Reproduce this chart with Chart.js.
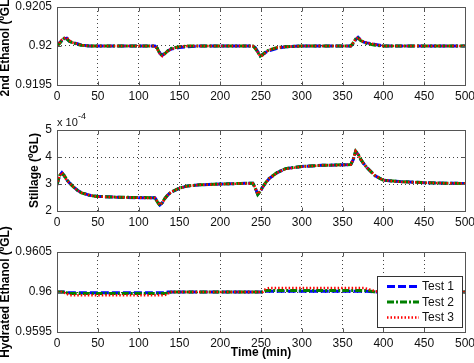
<!DOCTYPE html>
<html>
<head>
<meta charset="utf-8">
<script src="https://cdn.jsdelivr.net/npm/chart.js@4.4.1/dist/chart.umd.min.js"></script>
<style>
  body { margin: 0; background: #fff; }
  #wrap { position: relative; width: 474px; height: 363px; overflow: hidden; }
  canvas { position: absolute; left: 0; }
</style>
</head>
<body>
<div id="wrap">
  <canvas id="c1" width="474" height="115" style="top:0px"></canvas>
  <canvas id="c2" width="474" height="135" style="top:100px"></canvas>
  <canvas id="c3" width="474" height="148" style="top:215px"></canvas>
</div>
<script>
// time axis (min), shared by all three panels
const times = [0, 3, 6, 9, 12, 15, 20, 25, 30, 40, 50, 75, 100, 120, 123, 126, 129, 132, 136, 140,
  150, 160, 175, 200, 225, 240, 243, 246, 249, 252, 256, 260, 270, 280, 300, 325, 350, 360, 363, 366,
  369, 372, 376, 380, 390, 400, 420, 450, 475, 500];

const testNames = ['Test 1', 'Test 2', 'Test 3'];
const xTicks = [0, 50, 100, 150, 200, 250, 300, 350, 400, 450, 500];

// 2nd Ethanol (ºGL)
const ethanol2Ticks = [0.9195, 0.92, 0.9205];
const ethanol2Test1 = [0.92, 0.92004, 0.92007, 0.92009, 0.92010, 0.92006, 0.92004, 0.92003, 0.92001, 0.92,
  0.92, 0.92, 0.92, 0.92, 0.91997, 0.91991, 0.91988, 0.91991, 0.91994, 0.91996,
  0.91998, 0.91999, 0.92, 0.92, 0.92, 0.92, 0.91998, 0.91993, 0.91988, 0.91989,
  0.91992, 0.91994, 0.91997, 0.91999, 0.92, 0.92, 0.92, 0.92, 0.92003, 0.92008,
  0.92011, 0.92008, 0.92005, 0.92004, 0.92002, 0.92, 0.92, 0.92, 0.92, 0.92];
const ethanol2Test2 = [0.92, 0.92003, 0.92007, 0.92010, 0.92009, 0.92006, 0.92004, 0.92002, 0.92001, 0.92,
  0.92, 0.92, 0.92, 0.92, 0.91997, 0.91990, 0.91988, 0.91990, 0.91994, 0.91997,
  0.91999, 0.92, 0.92, 0.92, 0.92, 0.92, 0.91997, 0.91992, 0.91987, 0.91989,
  0.91993, 0.91995, 0.91998, 0.91999, 0.92, 0.92, 0.92, 0.92, 0.92004, 0.92009,
  0.92010, 0.92007, 0.92005, 0.92003, 0.92001, 0.92, 0.92, 0.92, 0.92, 0.92];
const ethanol2Test3 = [0.92, 0.92004, 0.92008, 0.92010, 0.92011, 0.92007, 0.92004, 0.92003, 0.92001, 0.92,
  0.92, 0.92, 0.92, 0.92, 0.91996, 0.91990, 0.91987, 0.91990, 0.91994, 0.91996,
  0.91999, 0.92, 0.92, 0.92, 0.92, 0.92, 0.91997, 0.91992, 0.91987, 0.91988,
  0.91992, 0.91995, 0.91998, 0.91999, 0.92, 0.92, 0.92, 0.92, 0.92004, 0.92009,
  0.92011, 0.92008, 0.92005, 0.92004, 0.92002, 0.92, 0.92, 0.92, 0.92, 0.92];

// Stillage (ºGL), in units of 1e-4
const stillageTicks = [2, 3, 4, 5];
const stillageTest1 = [2.97, 3.30, 3.42, 3.30, 3.15, 3.05, 2.90, 2.77, 2.68, 2.58,
  2.54, 2.51, 2.49, 2.49, 2.35, 2.22, 2.30, 2.45, 2.60, 2.70,
  2.84, 2.93, 2.97, 3.00, 3.02, 3.03, 2.85, 2.62, 2.72, 2.88,
  3.05, 3.20, 3.42, 3.57, 3.65, 3.69, 3.71, 3.72, 3.90, 4.20,
  4.10, 3.92, 3.75, 3.60, 3.30, 3.14, 3.09, 3.05, 3.03, 3.02];
const stillageTest2 = [2.98, 3.31, 3.41, 3.31, 3.16, 3.05, 2.89, 2.77, 2.67, 2.58,
  2.54, 2.51, 2.50, 2.49, 2.34, 2.21, 2.31, 2.46, 2.61, 2.70,
  2.85, 2.93, 2.97, 3.00, 3.02, 3.03, 2.84, 2.61, 2.73, 2.89,
  3.06, 3.21, 3.43, 3.57, 3.65, 3.69, 3.71, 3.72, 3.92, 4.22,
  4.11, 3.93, 3.75, 3.60, 3.30, 3.14, 3.09, 3.05, 3.03, 3.02];
const stillageTest3 = [2.96, 3.30, 3.43, 3.30, 3.14, 3.04, 2.90, 2.76, 2.68, 2.58,
  2.53, 2.51, 2.49, 2.48, 2.35, 2.23, 2.30, 2.45, 2.60, 2.71,
  2.84, 2.92, 2.97, 2.99, 3.02, 3.02, 2.86, 2.63, 2.72, 2.88,
  3.05, 3.20, 3.42, 3.56, 3.64, 3.69, 3.70, 3.72, 3.91, 4.21,
  4.09, 3.92, 3.74, 3.60, 3.31, 3.14, 3.08, 3.05, 3.03, 3.02];

// Hydrated Ethanol (ºGL)
const hydratedTicks = [0.9595, 0.96, 0.9605];
const hydratedTest1 = [0.96, 0.96, 0.96, 0.96, 0.96, 0.95999, 0.95999, 0.95999, 0.95999, 0.95999,
  0.95999, 0.95999, 0.95999, 0.95999, 0.95999, 0.95999, 0.95999, 0.95999, 0.96, 0.96,
  0.96, 0.96, 0.96, 0.96, 0.96, 0.96, 0.96, 0.96, 0.96, 0.96,
  0.96001, 0.96001, 0.96001, 0.96001, 0.96001, 0.96001, 0.96001, 0.96001, 0.96001, 0.96001,
  0.96001, 0.96001, 0.96001, 0.96001, 0.96, 0.96, 0.96, 0.96, 0.96, 0.96];
const hydratedTest2 = [0.96, 0.96, 0.96, 0.96, 0.95999, 0.95998, 0.95998, 0.95998, 0.95998, 0.95998,
  0.95998, 0.95998, 0.95998, 0.95998, 0.95998, 0.95998, 0.95998, 0.95998, 0.95999, 0.96,
  0.96, 0.96, 0.96, 0.96, 0.96, 0.96, 0.96, 0.96, 0.96, 0.96,
  0.96002, 0.96002, 0.96002, 0.96002, 0.96002, 0.96002, 0.96002, 0.96002, 0.96002, 0.96002,
  0.96002, 0.96002, 0.96002, 0.96002, 0.96, 0.96, 0.96, 0.96, 0.96, 0.96];
const hydratedTest3 = [0.96, 0.96, 0.96, 0.95999, 0.95998, 0.95996, 0.95996, 0.95996, 0.95996, 0.95996,
  0.95996, 0.95996, 0.95996, 0.95996, 0.95996, 0.95996, 0.95996, 0.95996, 0.95998, 0.96,
  0.96, 0.96, 0.96, 0.96, 0.96, 0.96, 0.96, 0.96, 0.96, 0.96,
  0.96004, 0.96005, 0.96005, 0.96005, 0.96005, 0.96005, 0.96005, 0.96005, 0.96005, 0.96005,
  0.96005, 0.96005, 0.96005, 0.96004, 0.96001, 0.96, 0.96, 0.96, 0.96, 0.96];

const lineColors = ['#0000ff', '#008000', '#ff0000'];
const lineDashes = [[8, 3], [7, 2, 2, 2], [1.5, 2]];
const lineWidths = [3, 3, 2.5];

Chart.defaults.font.family = '"Liberation Sans", Arial, sans-serif';
Chart.defaults.font.size = 12;

// axes box with inward tick marks, drawn over the lines
const boxPlugin = {
  id: 'box',
  afterDatasetsDraw(chart) {
    const { ctx, chartArea: a, scales } = chart;
    const l = Math.round(a.left) + 0.5, t = Math.round(a.top) + 0.5;
    const r = Math.round(a.right) + 0.5, b = Math.round(a.bottom) + 0.5;
    ctx.save();
    ctx.strokeStyle = '#555';
    ctx.lineWidth = 1;
    ctx.setLineDash([]);
    ctx.beginPath();
    scales.x.ticks.forEach(tk => {
      const px = Math.round(scales.x.getPixelForValue(tk.value)) + 0.5;
      ctx.moveTo(px, b); ctx.lineTo(px, b - 4);
      ctx.moveTo(px, t); ctx.lineTo(px, t + 4);
    });
    scales.y.ticks.forEach(tk => {
      const py = Math.round(scales.y.getPixelForValue(tk.value)) + 0.5;
      ctx.moveTo(l, py); ctx.lineTo(l + 4, py);
      ctx.moveTo(r, py); ctx.lineTo(r - 4, py);
    });
    ctx.stroke();
    ctx.strokeRect(l, t, r - l, b - t);
    ctx.restore();
  }
};

// "x 10^-4" multiplier over the stillage axis
const exponentPlugin = {
  id: 'exponent',
  afterDraw(chart) {
    const { ctx, chartArea: a } = chart;
    ctx.save();
    ctx.fillStyle = '#111';
    ctx.textBaseline = 'alphabetic';
    ctx.font = '11px "Liberation Sans", Arial, sans-serif';
    ctx.fillText('x 10', a.left, a.top - 4);
    ctx.font = '9px "Liberation Sans", Arial, sans-serif';
    ctx.fillText('-4', a.left + 21, a.top - 11);
    ctx.restore();
  }
};

// legend box inside the bottom panel
const legendPlugin = {
  id: 'boxLegend',
  afterDraw(chart) {
    const { ctx } = chart;
    const x = 377, y = 61, w = 85, h = 51;
    ctx.save();
    ctx.fillStyle = '#fff';
    ctx.fillRect(x, y, w, h);
    ctx.strokeStyle = '#333';
    ctx.lineWidth = 1;
    ctx.strokeRect(x + 0.5, y + 0.5, w, h);
    chart.data.datasets.forEach((ds, i) => {
      const yy = y + 10.5 + i * 15.5;
      ctx.strokeStyle = ds.borderColor;
      ctx.lineWidth = ds.borderWidth;
      ctx.setLineDash(ds.borderDash);
      ctx.beginPath();
      ctx.moveTo(x + 10, yy);
      ctx.lineTo(x + 42, yy);
      ctx.stroke();
      ctx.setLineDash([]);
      ctx.fillStyle = '#111';
      ctx.font = '12px "Liberation Sans", Arial, sans-serif';
      ctx.textBaseline = 'middle';
      ctx.fillText(ds.label, x + 45, yy + 0.5);
    });
    ctx.restore();
  }
};

function makeChart(id, opts) {
  const datasets = opts.series.map((vals, i) => ({
    label: testNames[i],
    data: times.map((t, j) => ({ x: t, y: vals[j] })),
    borderColor: lineColors[i],
    borderDash: lineDashes[i],
    borderWidth: lineWidths[i],
    pointRadius: 0,
    fill: false,
    tension: 0,
    order: 3 - i
  }));

  return new Chart(document.getElementById(id), {
    type: 'line',
    data: { datasets: datasets },
    options: {
      responsive: false,
      animation: false,
      layout: { padding: { top: opts.top, right: 9, left: 0, bottom: 0 } },
      plugins: { legend: { display: false }, tooltip: { enabled: false } },
      scales: {
        x: {
          type: 'linear',
          min: 0,
          max: 500,
          afterBuildTicks: s => { s.ticks = xTicks.map(v => ({ value: v })); },
          afterFit: s => { s.height = opts.xHeight; s.paddingLeft = 0; s.paddingRight = 0; },
          grid: { color: '#444', lineWidth: 1, drawTicks: false },
          border: { display: false, dash: [1, 3] },
          ticks: { padding: 4, color: '#111', maxRotation: 0, autoSkip: false },
          title: {
            display: !!opts.xTitle,
            text: opts.xTitle || '',
            color: '#000',
            font: { size: 12, weight: 'bold', lineHeight: 1.2 },
            padding: { top: 0, bottom: 3 }
          }
        },
        y: {
          type: 'linear',
          min: opts.yTicks[0],
          max: opts.yTicks[opts.yTicks.length - 1],
          afterBuildTicks: s => { s.ticks = opts.yTicks.map(v => ({ value: v })); },
          afterFit: s => { s.width = 57; s.paddingTop = 0; s.paddingBottom = 0; },
          grid: { color: '#444', lineWidth: 1, drawTicks: false },
          border: { display: false, dash: [1, 3] },
          ticks: { padding: 5, color: '#111', callback: v => String(v) },
          title: {
            display: true,
            text: opts.yTitle,
            color: '#000',
            font: { size: 12, weight: 'bold', lineHeight: 1 },
            padding: { top: opts.yTitlePad, bottom: 0 }
          }
        }
      }
    },
    plugins: [boxPlugin].concat(opts.extra || [])
  });
}

makeChart('c1', {
  series: [ethanol2Test1, ethanol2Test2, ethanol2Test3],
  yTicks: ethanol2Ticks,
  yTitle: '2nd Ethanol (ºGL)',
  yTitlePad: 0,
  top: 7,
  xHeight: 30
});

makeChart('c2', {
  series: [stillageTest1, stillageTest2, stillageTest3],
  yTicks: stillageTicks,
  yTitle: 'Stillage (ºGL)',
  yTitlePad: 29,
  top: 30,
  xHeight: 24,
  extra: [exponentPlugin]
});

makeChart('c3', {
  series: [hydratedTest1, hydratedTest2, hydratedTest3],
  yTicks: hydratedTicks,
  yTitle: 'Hydrated Ethanol (ºGL)',
  yTitlePad: 0,
  xTitle: 'Time (min)',
  top: 37,
  xHeight: 31,
  extra: [legendPlugin]
});
</script>
</body>
</html>
